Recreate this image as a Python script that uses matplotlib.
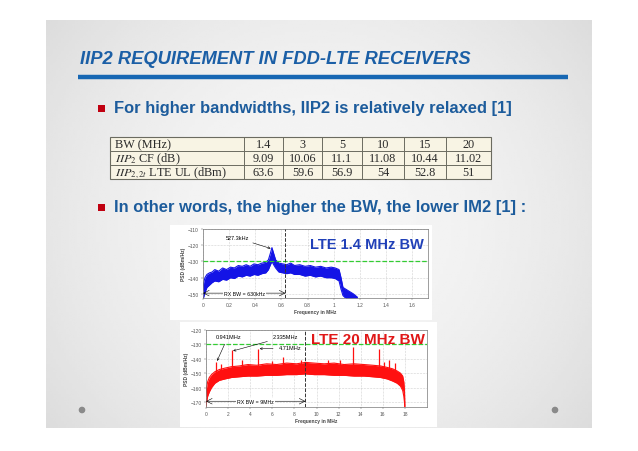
import numpy as np
import matplotlib
matplotlib.use('Agg')
import matplotlib.pyplot as plt
from matplotlib.patches import Rectangle, Circle

# tabela IIP2 x largura de banda
bw_mhz = ['1.4', '3', '5', '10', '15', '20']
iip2_cf = ['9.09', '10.06', '11.1', '11.08', '10.44', '11.02']
iip2_lte = ['63.6', '59.6', '56.9', '54', '52.8', '51']
row_labels = ['BW (MHz)', r'$IIP_2$ CF (dB)', r'$IIP_{2,2t}$ LTE UL (dBm)']

# espectro LTE 1.4 MHz (envoltoria), MHz x dBm/Hz
f14 = [0.0, 0.005, 0.015, 0.03, 0.05, 0.07, 0.09, 0.12, 0.15, 0.18, 0.21, 0.24,
       0.27, 0.30, 0.33, 0.36, 0.39, 0.42, 0.45, 0.48, 0.50, 0.515, 0.527, 0.54,
       0.555, 0.58, 0.61, 0.64, 0.67, 0.70, 0.74, 0.78, 0.82, 0.86, 0.90, 0.94,
       0.98, 1.01, 1.04, 1.055, 1.07, 1.09, 1.12, 1.15, 1.18]
up14 = [-148, -143, -140, -138, -137, -136.5, -135, -136, -134, -135, -133.5, -134,
        -132.5, -133, -132, -133, -131.5, -132, -131, -130.5, -129, -125, -121.5, -125,
        -129, -131, -131.5, -132, -131, -132.5, -132, -133, -132.5, -133.5, -133, -134,
        -133.5, -134, -135, -140, -146, -147, -148.5, -150, -152]
lo14 = [-153, -152, -149, -146, -144.5, -143, -142, -142.5, -141, -141.5, -140, -140.5,
        -139, -139.5, -138.5, -139, -138, -138.5, -137.5, -137, -135, -132, -130, -132,
        -134, -136.5, -137, -137.5, -137, -138, -138, -139, -138.5, -139.5, -139, -140,
        -140, -140.5, -142, -147, -151, -152.5, -152.5, -152.5, -152.5]
peak14 = 0.5273
rxbw14 = 0.63

# espectro LTE 20 MHz
f20 = [0.0, 0.05, 0.15, 0.3, 0.5, 0.8, 1.2, 1.7, 2.3, 3.0, 3.8, 4.6, 5.5, 6.4, 7.3,
       8.2, 9.0, 9.8, 10.7, 11.6, 12.5, 13.4, 14.3, 15.1, 15.8, 16.4, 16.9, 17.3,
       17.6, 17.8, 17.9, 17.96, 18.0]
up20 = [-166, -160, -156, -153, -151, -149, -147.5, -146.5, -145.5, -145, -144, -144.5,
        -143.5, -144, -143, -143.5, -142.5, -143, -143.5, -143, -144, -143.5, -144,
        -144.5, -145, -146, -147, -148.5, -150, -152, -156, -162, -175]
lo20 = [-173, -170, -166, -163, -160, -157, -155, -154, -153, -152.5, -152, -152,
        -151.5, -151.5, -151, -151, -150.5, -151, -151, -151.5, -151.5, -152, -152,
        -152.5, -153, -154, -155.5, -157, -159, -162, -166, -170, -175]
spur_f = [0.941, 1.4, 2.335, 3.3, 4.71, 6.0, 7.0, 8.6, 11.0, 12.1, 13.29, 15.67, 16.1, 16.6, 17.06]
spur_lvl = [-142, -143.5, -134, -141, -133, -141.5, -139, -141, -140.5, -141, -132, -133, -142, -141, -143]
rxbw20 = 9.0

BLUE_TXT = '#1d5c9c'
SANS = ['Liberation Sans', 'DejaVu Sans']


def spectrum(ax, f, up, lo, cor, xlim, ylim, xticks, yticks):
    ax.fill_between(f, lo, up, color=cor, lw=0, zorder=2)
    ax.plot(f, up, color=cor, lw=0.8, zorder=2)
    ax.plot(f, lo, color=cor, lw=0.8, zorder=2)
    ax.set_xlim(xlim)
    ax.set_ylim(ylim)
    ax.set_xticks(xticks)
    ax.set_yticks(yticks)
    ax.tick_params(labelsize=3.5, length=1.5, width=0.3, pad=1.5, colors='#555555')
    ax.grid(True, ls=':', lw=0.4, color='#aaaaaa')
    for s in ax.spines.values():
        s.set_linewidth(0.5)
        s.set_color('#777777')
    ax.axhline(-130, color='#33cc33', ls='--', lw=0.9, zorder=3)
    ax.set_xlabel('Frequency in MHz', fontsize=3.5, labelpad=1, fontweight='bold', color='#444444')
    ax.set_ylabel('PSD (dBm/Hz)', fontsize=3.5, labelpad=1, fontweight='bold', color='#444444')


def main():
    plt.rcParams['font.family'] = SANS
    plt.rcParams['mathtext.fontset'] = 'stix'

    fig = plt.figure(figsize=(6.38, 4.52), dpi=100)

    # painel cinza com gradiente
    W, H = 638, 452
    px0, py0, px1, py1 = 46, 21, 592, 429
    bg = fig.add_axes([px0 / W, 1 - py1 / H, (px1 - px0) / W, (py1 - py0) / H])
    xx, yy = np.meshgrid(np.linspace(-1, 1, 200), np.linspace(-1, 1, 150))
    grad = 0.965 - 0.085 * (0.75 * xx ** 2 + 0.45 * yy ** 2)
    bg.imshow(grad, cmap='gray', vmin=0, vmax=1, aspect='auto', interpolation='bilinear')
    bg.axis('off')

    # camada em pixels para textos e tabela
    ov = fig.add_axes([0, 0, 1, 1])
    ov.set_xlim(0, W)
    ov.set_ylim(H, 0)
    ov.axis('off')
    ov.patch.set_alpha(0)

    ov.text(80, 60, 'IIP2 REQUIREMENT IN FDD-LTE RECEIVERS', fontsize=13.2,
            fontweight='bold', fontstyle='italic', color='#1b5fa6', va='center')
    ov.plot([78, 568], [77.5, 77.5], color='#1767b3', lw=3.2, solid_capstyle='butt')

    for y, txt in [(109, 'For higher bandwidths, IIP2 is relatively relaxed [1]'),
                   (208, 'In other words, the higher the BW, the lower IM2 [1] :')]:
        ov.add_patch(Rectangle((98, y - 3.5), 7, 7, color='#c00010', lw=0))
        ov.text(114, y, txt, fontsize=11.9, fontweight='bold', color=BLUE_TXT, va='center')

    # tabela
    cols = [110, 244, 283, 322, 362, 404, 446, 491]
    rows = [138, 152, 166, 180]
    ov.add_patch(Rectangle((cols[0], rows[0]), cols[-1] - cols[0], rows[-1] - rows[0],
                           facecolor='#f8f4e4', edgecolor='#6b6b60', lw=0.8))
    for x in cols[1:-1]:
        ov.plot([x, x], [rows[0], rows[-1]], color='#6b6b60', lw=0.7)
    for y in rows[1:-1]:
        ov.plot([cols[0], cols[-1]], [y, y], color='#6b6b60', lw=0.7)
    valores = [bw_mhz, iip2_cf, iip2_lte]
    for i, (lab, vals) in enumerate(zip(row_labels, valores)):
        yc = (rows[i] + rows[i + 1]) / 2
        ov.text(cols[0] + 5, yc, lab, fontsize=8.8, family='Liberation Serif',
                va='center', color='#2a2a2a')
        for j, v in enumerate(vals):
            xc = (cols[j + 1] + cols[j + 2]) / 2
            ov.text(xc, yc, v, fontsize=8.8, family='Liberation Serif',
                    va='center', ha='center', color='#2a2a2a')

    # caixas brancas das figuras
    ov.add_patch(Rectangle((170, 226), 262, 95, color='white', lw=0))
    ov.add_patch(Rectangle((180, 323), 257, 105, color='white', lw=0))

    # bolinhas no rodape
    for x in (82, 555):
        ov.add_patch(Circle((x, 411), 2.6, color='#8a8a8a'))

    # grafico 1.4 MHz
    ax1 = fig.add_axes([203 / W, 1 - 299 / H, 225 / W, 69 / H])
    spectrum(ax1, f14, up14, lo14, '#1414e6', (0, 1.72), (-152.5, -110),
             np.arange(0, 1.61, 0.2), [-150, -140, -130, -120, -110])
    ax1.set_xticklabels(['0', '0.2', '0.4', '0.6', '0.8', '1', '1.2', '1.4', '1.6'])
    ax1.axvline(rxbw14, color='#333333', ls='--', lw=0.7, zorder=3)
    ax1.annotate('527.3kHz', xy=(peak14 - 0.01, -122), xytext=(0.26, -115.5),
                 fontsize=4, ha='center', va='center',
                 arrowprops=dict(arrowstyle='->', lw=0.4, shrinkA=1, shrinkB=0))
    ax1.annotate('', xy=(rxbw14, -149.5), xytext=(0.0, -149.5),
                 arrowprops=dict(arrowstyle='<->', lw=0.4, shrinkA=0, shrinkB=0))
    ax1.text(rxbw14 / 2, -149.5, 'RX BW = 630kHz', fontsize=3.8, ha='center', va='center',
             bbox=dict(facecolor='white', edgecolor='none', pad=0.6), zorder=4)
    ax1.text(1.69, -119, 'LTE 1.4 MHz BW', fontsize=10.5, fontweight='bold',
             color='#2040b8', ha='right', va='center', zorder=5)

    # grafico 20 MHz
    ax2 = fig.add_axes([206 / W, 1 - 408 / H, 221 / W, 77 / H])
    spectrum(ax2, f20, up20, lo20, '#ff1010', (0, 20), (-173.5, -120),
             np.arange(0, 18.1, 2), [-170, -160, -150, -140, -130, -120])
    ax2.vlines(spur_f, -149, spur_lvl, color='#ff1010', lw=0.9, zorder=2)
    ax2.axvline(rxbw20, color='#333333', ls='--', lw=0.7, zorder=3)
    ax2.annotate('0.941MHz', xy=(1.0, -141.5), xytext=(2.0, -124.5),
                 fontsize=4, ha='center', va='center',
                 arrowprops=dict(arrowstyle='->', lw=0.4, shrinkA=2, shrinkB=0))
    ax2.annotate('2.335MHz', xy=(2.45, -134.5), xytext=(7.2, -124.5),
                 fontsize=4, ha='center', va='center',
                 arrowprops=dict(arrowstyle='->', lw=0.4, shrinkA=2, shrinkB=0))
    ax2.annotate('4.71MHz', xy=(4.85, -133), xytext=(7.6, -132.5),
                 fontsize=4, ha='center', va='center',
                 arrowprops=dict(arrowstyle='->', lw=0.4, shrinkA=2, shrinkB=0))
    ax2.annotate('', xy=(rxbw20, -169.5), xytext=(0.0, -169.5),
                 arrowprops=dict(arrowstyle='<->', lw=0.4, shrinkA=0, shrinkB=0))
    ax2.text(rxbw20 / 2, -169.5, 'RX BW = 9MHz', fontsize=3.8, ha='center', va='center',
             bbox=dict(facecolor='white', edgecolor='none', pad=0.6), zorder=4)
    ax2.text(19.85, -126, 'LTE 20 MHz BW', fontsize=11, fontweight='bold',
             color='#e01818', ha='right', va='center', zorder=5)

    fig.savefig('out.png', dpi=100)


if __name__ == '__main__':
    main()
